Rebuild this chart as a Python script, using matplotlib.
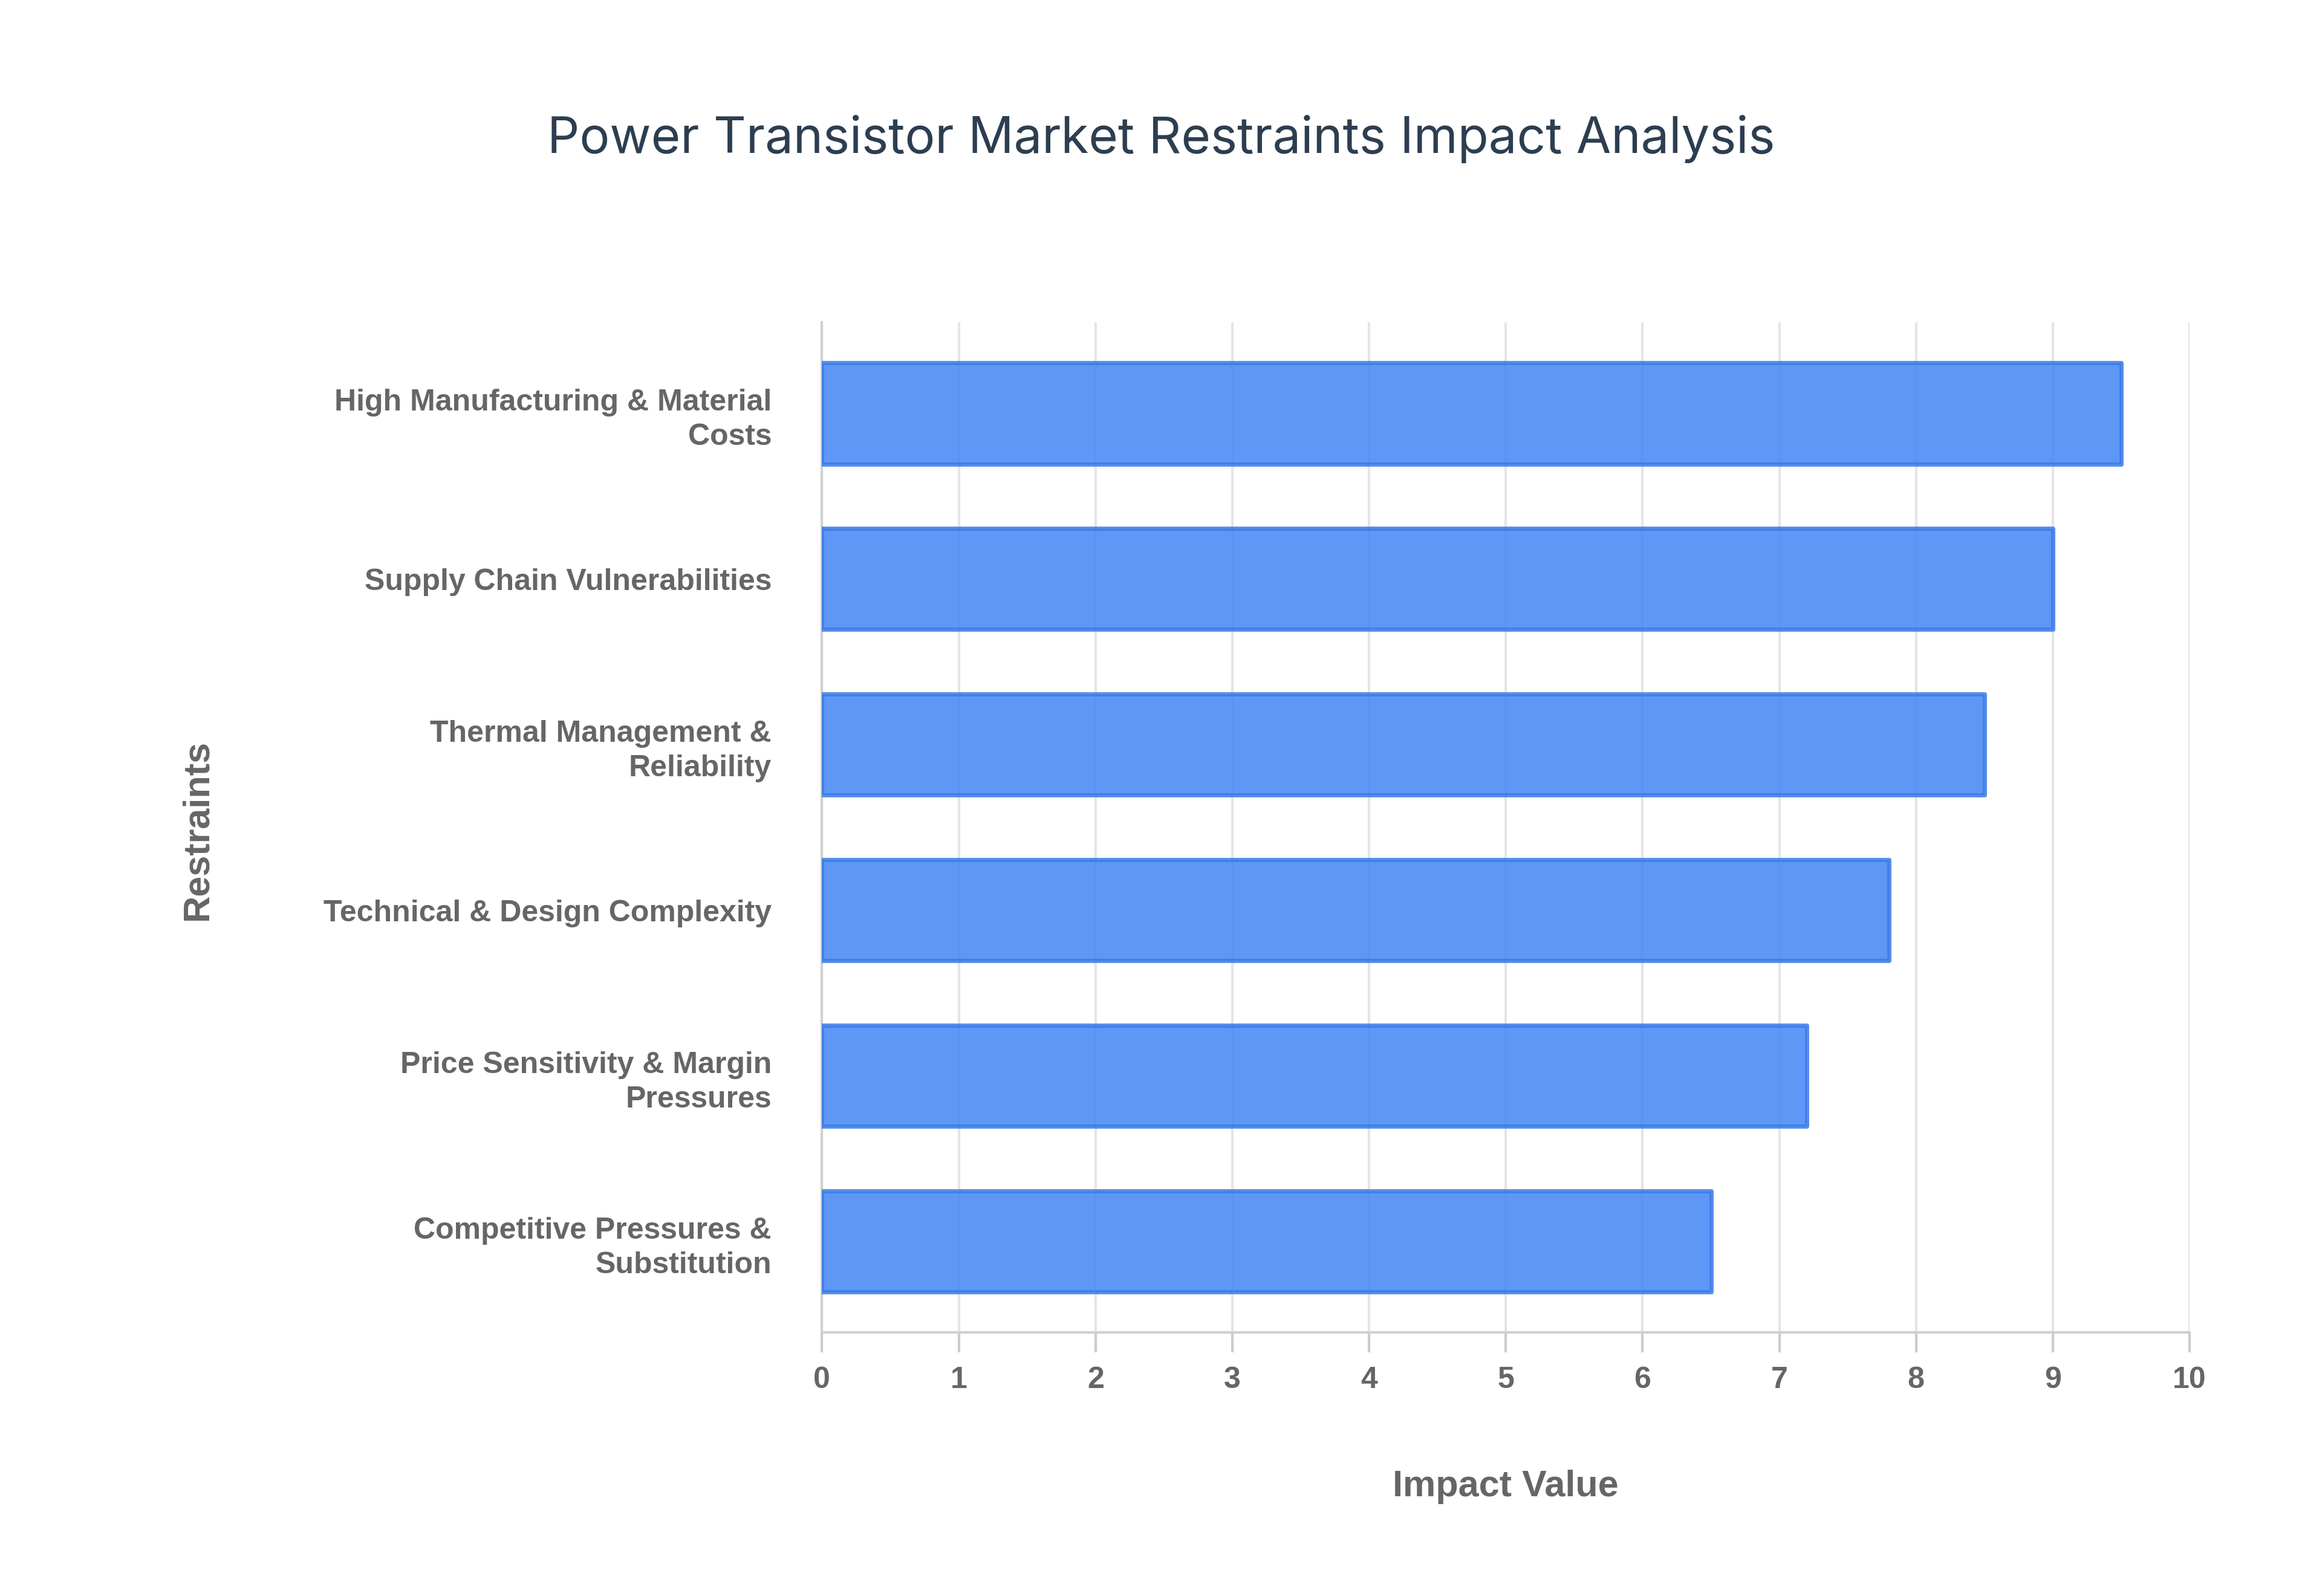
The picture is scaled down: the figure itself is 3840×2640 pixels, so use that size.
import matplotlib
matplotlib.use("Agg")
import matplotlib.pyplot as plt

restraints = [
    "High Manufacturing & Material\nCosts",
    "Supply Chain Vulnerabilities",
    "Thermal Management &\nReliability",
    "Technical & Design Complexity",
    "Price Sensitivity & Margin\nPressures",
    "Competitive Pressures &\nSubstitution",
]
impact = [9.5, 9.0, 8.5, 7.8, 7.2, 6.5]
x_ticks = list(range(0, 11))

fig = plt.figure(figsize=(19.2, 13.2), dpi=200)
ax = fig.add_axes([0.354, 0.165, 0.589, 0.633])

ypos = list(range(len(restraints)))[::-1]
ax.barh(ypos, impact, height=0.61, color="#4285f4", alpha=0.85,
        edgecolor="#3b7be8", linewidth=2.5, joinstyle="round", zorder=3)

ax.set_xlim(0, 10)
ax.set_ylim(-0.55, 5.55)
ax.set_xticks(x_ticks)
ax.set_yticks(ypos)
ax.set_yticklabels(restraints, family="Liberation Sans", fontweight="bold",
                   fontsize=18, color="#666666", linespacing=1.3)
for lab in ax.get_xticklabels():
    lab.set_family("Liberation Sans"); lab.set_fontweight("bold")
    lab.set_fontsize(18); lab.set_color("#666666")
ax.tick_params(axis="y", length=0, pad=30)
ax.tick_params(axis="x", length=12, color="#cccccc", width=1.5, pad=8)
ax.grid(axis="x", color="#e5e5e5", linewidth=1.5, zorder=0)
for side in ["top", "right"]:
    ax.spines[side].set_visible(False)
ax.spines["left"].set_color("#d0d0d0")
ax.spines["bottom"].set_color("#d0d0d0")
ax.spines["left"].set_linewidth(1.5)
ax.spines["bottom"].set_linewidth(1.5)

ax.set_xlabel("Impact Value", family="Liberation Sans", fontweight="bold",
              fontsize=22, color="#666666", labelpad=45)
fig.text(0.085, 0.48, "Restraints", rotation=90, family="Liberation Sans",
         fontweight="bold", fontsize=22, color="#666666", ha="center", va="center")

fig.text(0.5, 0.913, "Power Transistor Market Restraints Impact Analysis",
         family="Inter", fontsize=30, color="#2c3e50", ha="center", va="center")

fig.savefig("out.png", dpi=200, facecolor="white")
